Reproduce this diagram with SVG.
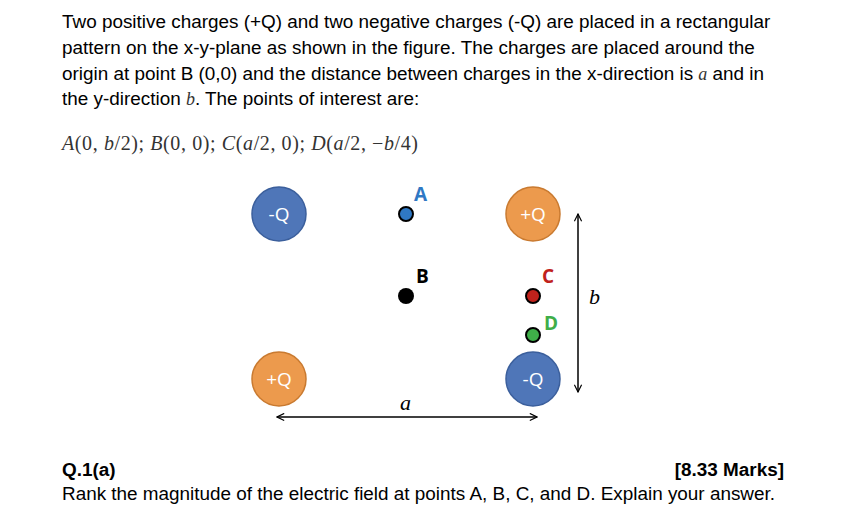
<svg xmlns="http://www.w3.org/2000/svg" width="849" height="513" viewBox="0 0 849 513">
<defs>
<marker id="ah" viewBox="0 0 10 10" refX="9" refY="5" markerWidth="9" markerHeight="9" orient="auto-start-reverse" markerUnits="userSpaceOnUse"><path d="M1,1 L9,5 L1,9" fill="none" stroke="#000" stroke-width="1.3"/></marker>
</defs>
<style>
.t{font-family:"Liberation Sans",Arial,sans-serif;font-size:18.9px;fill:#000}
.m{font-family:"Liberation Serif","DejaVu Serif",serif;font-size:20px;fill:#333;font-style:italic}
.neg{fill:#4f76b8;stroke:#3b5f9c;stroke-width:1.5}
.pos{fill:#ec9a4d;stroke:#c97a30;stroke-width:1.5}
.q{font-family:"Open Sans","Liberation Sans",sans-serif;font-size:19px;fill:#fff;text-anchor:middle}
.pl{font-family:"Open Sans","Liberation Sans",sans-serif;font-size:19px;font-weight:bold}
</style>
<rect width="849" height="513" fill="#fff"/>
<g id="text">
<text class="t" x="62" y="28">Two positive charges (+Q) and two negative charges (-Q) are placed in a rectangular</text>
<text class="t" x="62" y="54">pattern on the x-y-plane as shown in the figure. The charges are placed around the</text>
<text class="t" x="62" y="80">origin at point B (0,0) and the distance between charges in the x-direction is <tspan class="m" style="font-size:18px">a</tspan> and in</text>
<text class="t" x="62" y="105">the y-direction <tspan class="m" style="font-size:18px">b</tspan>. The points of interest are:</text>
<text class="m" x="62" y="150" style="font-style:normal;letter-spacing:0.6px"><tspan font-style="italic">A</tspan>(0, <tspan font-style="italic">b</tspan>/2); <tspan font-style="italic">B</tspan>(0, 0); <tspan font-style="italic">C</tspan>(<tspan font-style="italic">a</tspan>/2, 0); <tspan font-style="italic">D</tspan>(<tspan font-style="italic">a</tspan>/2, −<tspan font-style="italic">b</tspan>/4)</text>
<text class="t" x="62" y="476" font-weight="bold">Q.1(a)</text>
<text class="t" x="784" y="476" font-weight="bold" text-anchor="end">[8.33 Marks]</text>
<text class="t" x="62" y="500">Rank the magnitude of the electric field at points A, B, C, and D. Explain your answer.</text>
</g>
<g id="charge-tl"><circle class="neg" cx="279" cy="214" r="27"/><text class="q" x="279" y="221">-Q</text></g>
<g id="charge-tr"><circle class="pos" cx="533" cy="214" r="27"/><text class="q" x="533" y="221">+Q</text></g>
<g id="charge-bl"><circle class="pos" cx="279" cy="379" r="27"/><text class="q" x="279" y="386">+Q</text></g>
<g id="charge-br"><circle class="neg" cx="533" cy="379" r="27"/><text class="q" x="533" y="386">-Q</text></g>
<g id="point-A"><circle cx="406" cy="214" r="7" fill="#2f78c4" stroke="#000" stroke-width="2"/><text class="pl" x="414" y="201" fill="#2f78c4">A</text></g>
<g id="point-B"><circle cx="406" cy="296" r="8" fill="#000"/><text class="pl" x="416" y="283" fill="#000">B</text></g>
<g id="point-C"><circle cx="533" cy="296" r="7" fill="#c0221c" stroke="#000" stroke-width="2"/><text class="pl" x="542" y="283" fill="#c0221c">C</text></g>
<g id="point-D"><circle cx="533" cy="335" r="7" fill="#3fae49" stroke="#000" stroke-width="2"/><text class="pl" x="544" y="330" fill="#3fae49">D</text></g>
<g id="connectors" stroke="#000" stroke-width="1.5" fill="none">
<line x1="578" y1="214" x2="578" y2="392" marker-start="url(#ah)" marker-end="url(#ah)"/>
<line x1="277" y1="417" x2="537" y2="417" marker-start="url(#ah)" marker-end="url(#ah)"/>
</g>
<text class="m" x="589" y="304" style="font-size:22px;fill:#000">b</text>
<text class="m" x="400" y="410" style="font-size:22px;fill:#000">a</text>
</svg>
